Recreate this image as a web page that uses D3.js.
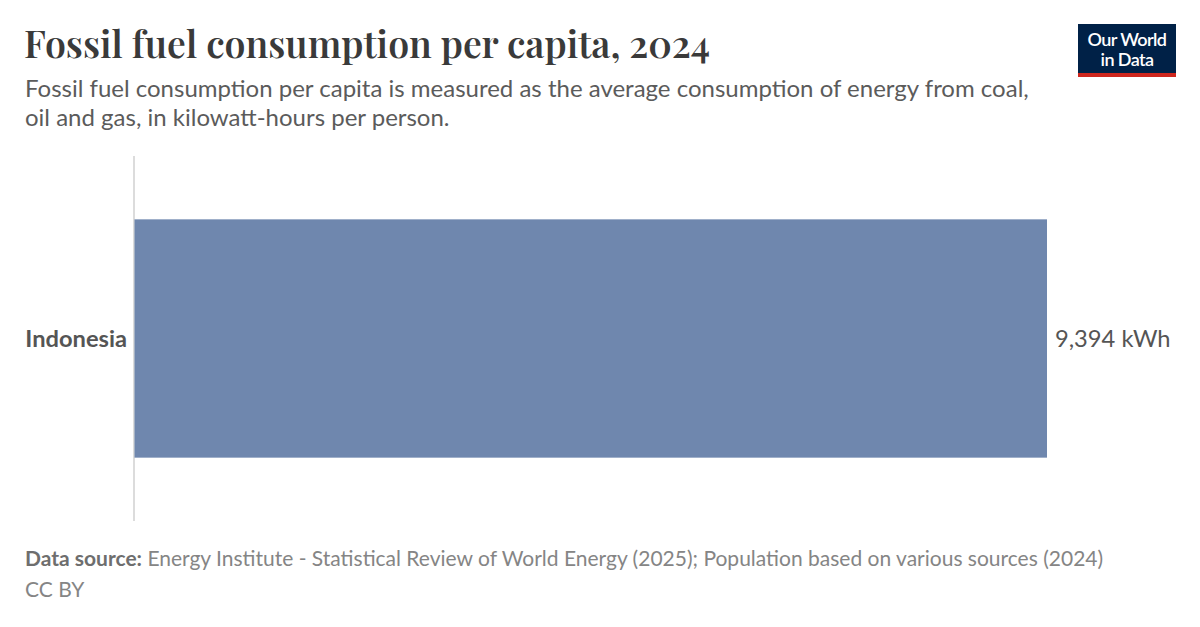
<!DOCTYPE html>
<html>
<head>
<meta charset="utf-8">
<script src="https://cdn.jsdelivr.net/npm/d3@7"></script>
<style>
  html, body { margin: 0; padding: 0; background: #fff; }
  svg { display: block; }
</style>
</head>
<body>
<svg id="chart" width="1200" height="627"></svg>
<script>
const categories = ["Indonesia"];
const values = [9394];
const unit = "kWh";

const title = "Fossil fuel consumption per capita, 2024";
const subtitleLines = [
  "Fossil fuel consumption per capita is measured as the average consumption of energy from coal,",
  "oil and gas, in kilowatt-hours per person."
];
const sourceLabel = "Data source:";
const sourceText = " Energy Institute - Statistical Review of World Energy (2025); Population based on various sources (2024)";
const licence = "CC BY";

const svg = d3.select("#chart");
svg.append("rect").attr("width", 1200).attr("height", 627).attr("fill", "#fff");

// Title
svg.append("text")
  .attr("x", 24).attr("y", 58)
  .attr("font-family", "'Playfair Display', 'DejaVu Serif', serif")
  .attr("font-size", 37.4)
  .attr("font-weight", 600)
  .attr("fill", "#3a3a3a")
  .text(title);

// Subtitle
svg.append("g").selectAll("text").data(subtitleLines).join("text")
  .attr("x", 25).attr("y", (d, i) => 97 + i * 29)
  .attr("font-family", "Lato, 'Noto Sans', sans-serif")
  .attr("font-size", 24)
  .attr("fill", "#5b5b5b")
  .text(d => d);

// Logo
const logo = svg.append("g");
logo.append("rect").attr("x", 1078).attr("y", 24).attr("width", 98).attr("height", 49).attr("fill", "#002147");
logo.append("rect").attr("x", 1078).attr("y", 73).attr("width", 98).attr("height", 4).attr("fill", "#ce261e");
logo.append("text").attr("x", 1127).attr("y", 46).attr("text-anchor", "middle")
  .attr("font-family", "Lato, 'Noto Sans', sans-serif").attr("font-size", 18).attr("font-weight", 600)
  .attr("fill", "#fff").attr("letter-spacing", -0.6).text("Our World");
logo.append("text").attr("x", 1127).attr("y", 66).attr("text-anchor", "middle")
  .attr("font-family", "Lato, 'Noto Sans', sans-serif").attr("font-size", 18).attr("font-weight", 600)
  .attr("fill", "#fff").attr("letter-spacing", -0.6).text("in Data");

// Scales
const x = d3.scaleLinear().domain([0, d3.max(values)]).range([134, 1047]);
const y = d3.scaleBand().domain(categories).range([156, 521]).padding(0.21);

// Axis line
svg.append("line")
  .attr("x1", x(0)).attr("x2", x(0))
  .attr("y1", 156).attr("y2", 521)
  .attr("stroke", "#d0d0d0").attr("stroke-width", 1.5);

// Bars
svg.append("g").selectAll("rect").data(values).join("rect")
  .attr("x", x(0) + 0.5)
  .attr("y", (d, i) => y(categories[i]))
  .attr("width", d => x(d) - x(0) - 0.5)
  .attr("height", y.bandwidth())
  .attr("fill", "#6f87ae");

// Category labels
svg.append("g").selectAll("text").data(categories).join("text")
  .attr("x", x(0) - 7)
  .attr("y", d => y(d) + y.bandwidth() / 2)
  .attr("dy", "0.35em")
  .attr("text-anchor", "end")
  .attr("font-family", "Lato, 'Noto Sans', sans-serif")
  .attr("font-size", 23.7).attr("font-weight", 700)
  .attr("fill", "#555")
  .text(d => d);

// Value labels
svg.append("g").selectAll("text").data(values).join("text")
  .attr("x", d => x(d) + 8)
  .attr("y", (d, i) => y(categories[i]) + y.bandwidth() / 2)
  .attr("dy", "0.35em")
  .attr("font-family", "Lato, 'Noto Sans', sans-serif")
  .attr("font-size", 23.7)
  .attr("fill", "#555")
  .text(d => d3.format(",")(d) + " " + unit);

// Footer
const src = svg.append("text").attr("x", 25).attr("y", 566)
  .attr("font-family", "Lato, 'Noto Sans', sans-serif").attr("font-size", 21).attr("fill", "#858585");
src.append("tspan").attr("font-weight", 700).attr("fill", "#6e6e6e").text(sourceLabel);
src.append("tspan").text(sourceText);
svg.append("text").attr("x", 25).attr("y", 597)
  .attr("font-family", "Lato, 'Noto Sans', sans-serif").attr("font-size", 21).attr("fill", "#858585")
  .text(licence);
</script>
</body>
</html>
